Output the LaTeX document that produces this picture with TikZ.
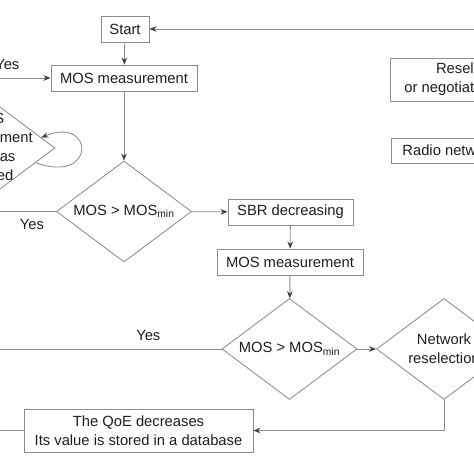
\documentclass[tikz,border=0pt]{standalone}
\usepackage{fontspec}
\setmainfont{Liberation Sans}
\usetikzlibrary{shapes.geometric,arrows.meta}

\definecolor{linegray}{RGB}{140,140,140}
\definecolor{textgray}{RGB}{30,30,30}

\begin{document}
\begin{tikzpicture}[line width=0.6pt,
  font={\fontsize{10.5}{13.5}\selectfont},
  >={Stealth[length=5pt,width=4pt,color=textgray!85]},
  box/.style={rectangle, draw=linegray, text=textgray, minimum height=0.65cm, inner sep=2pt},
  decision/.style={diamond, draw=linegray, text=textgray, aspect=1.34, inner sep=0pt,
    minimum width=3.375cm, minimum height=2.525cm},
  flow/.style={draw=linegray, ->},
  link/.style={draw=linegray},
  yes/.style={text=textgray}]

  \useasboundingbox (0,0) rectangle (11.85,11.85);
  \fill[white] (0,0) rectangle (11.85,11.85);
  \clip (0,0) rectangle (11.85,11.85);

  \node[box, minimum width=1.2cm] (start) at (3.125,11.125) {Start};
  \node[box, minimum width=3.65cm] (mos1) at (3.1,9.9) {MOS measurement};
  \node[decision] (check1) at (3.1,6.5625) {MOS > MOS\textsubscript{min}};
  \node[decision, label={[align=center, text=textgray]center:MOS\\measurement\\time has\\elapsed}] (stop) at (-0.3125,8.15) {};

  \node[box, minimum width=3.125cm] (sbr) at (7.2625,6.55) {SBR decreasing};
  \node[box, minimum width=3.65cm] (mos2) at (7.25,5.3) {MOS measurement};
  \node[decision] (check2) at (7.2375,3.125) {MOS > MOS\textsubscript{min}};
  \node[decision, align=center] (resel) at (11.1,3.125) {Network\\reselection};

  \node[box, minimum width=5.725cm, minimum height=1.075cm, align=center] (qoe) at (3.4625,1.0875)
    {The QoE decreases\\Its value is stored in a database};

  \node[box, anchor=west, minimum height=1.075cm, align=center, inner xsep=0.35cm] (reneg) at (9.75,9.8625)
    {Reselection\\or negotiation of SBR};
  \node[box, anchor=west, minimum height=0.625cm, inner xsep=0.275cm] (radio) at (9.775,8.0875)
    {Radio network selection};

  \coordinate (back) at (12.2,11.125);
  \coordinate (left2) at (-0.3125,3.125);
  \coordinate (left3) at (-0.3125,1.0875);

  \draw[flow] (back) -- (start);
  \draw[flow] (start) -- (mos1);
  \draw[flow] (stop.north) |- node[yes, pos=0.657, above=2pt] {Yes} (mos1.west);
  \draw[flow] (stop.-17) .. controls +(1.525,-0.55) and +(1.325,0.55) .. (stop.11);

  \draw[flow] (mos1) -- (check1);
  \draw[flow] (check1) -- (sbr);
  \draw[flow] (check1.west) -| node[yes, pos=0.176, below=2pt] {Yes} (stop.south);

  \draw[flow] (sbr) -- (mos2);
  \draw[flow] (mos2) -- (check2);
  \draw[flow] (check2) -- (resel);
  \draw[link] (check2.west) -- node[yes, pos=0.313, above=2pt] {Yes} (left2);

  \draw[flow] (resel.south) |- (qoe.east);
  \draw[link] (qoe.west) -- (left3);

\end{tikzpicture}
\end{document}
